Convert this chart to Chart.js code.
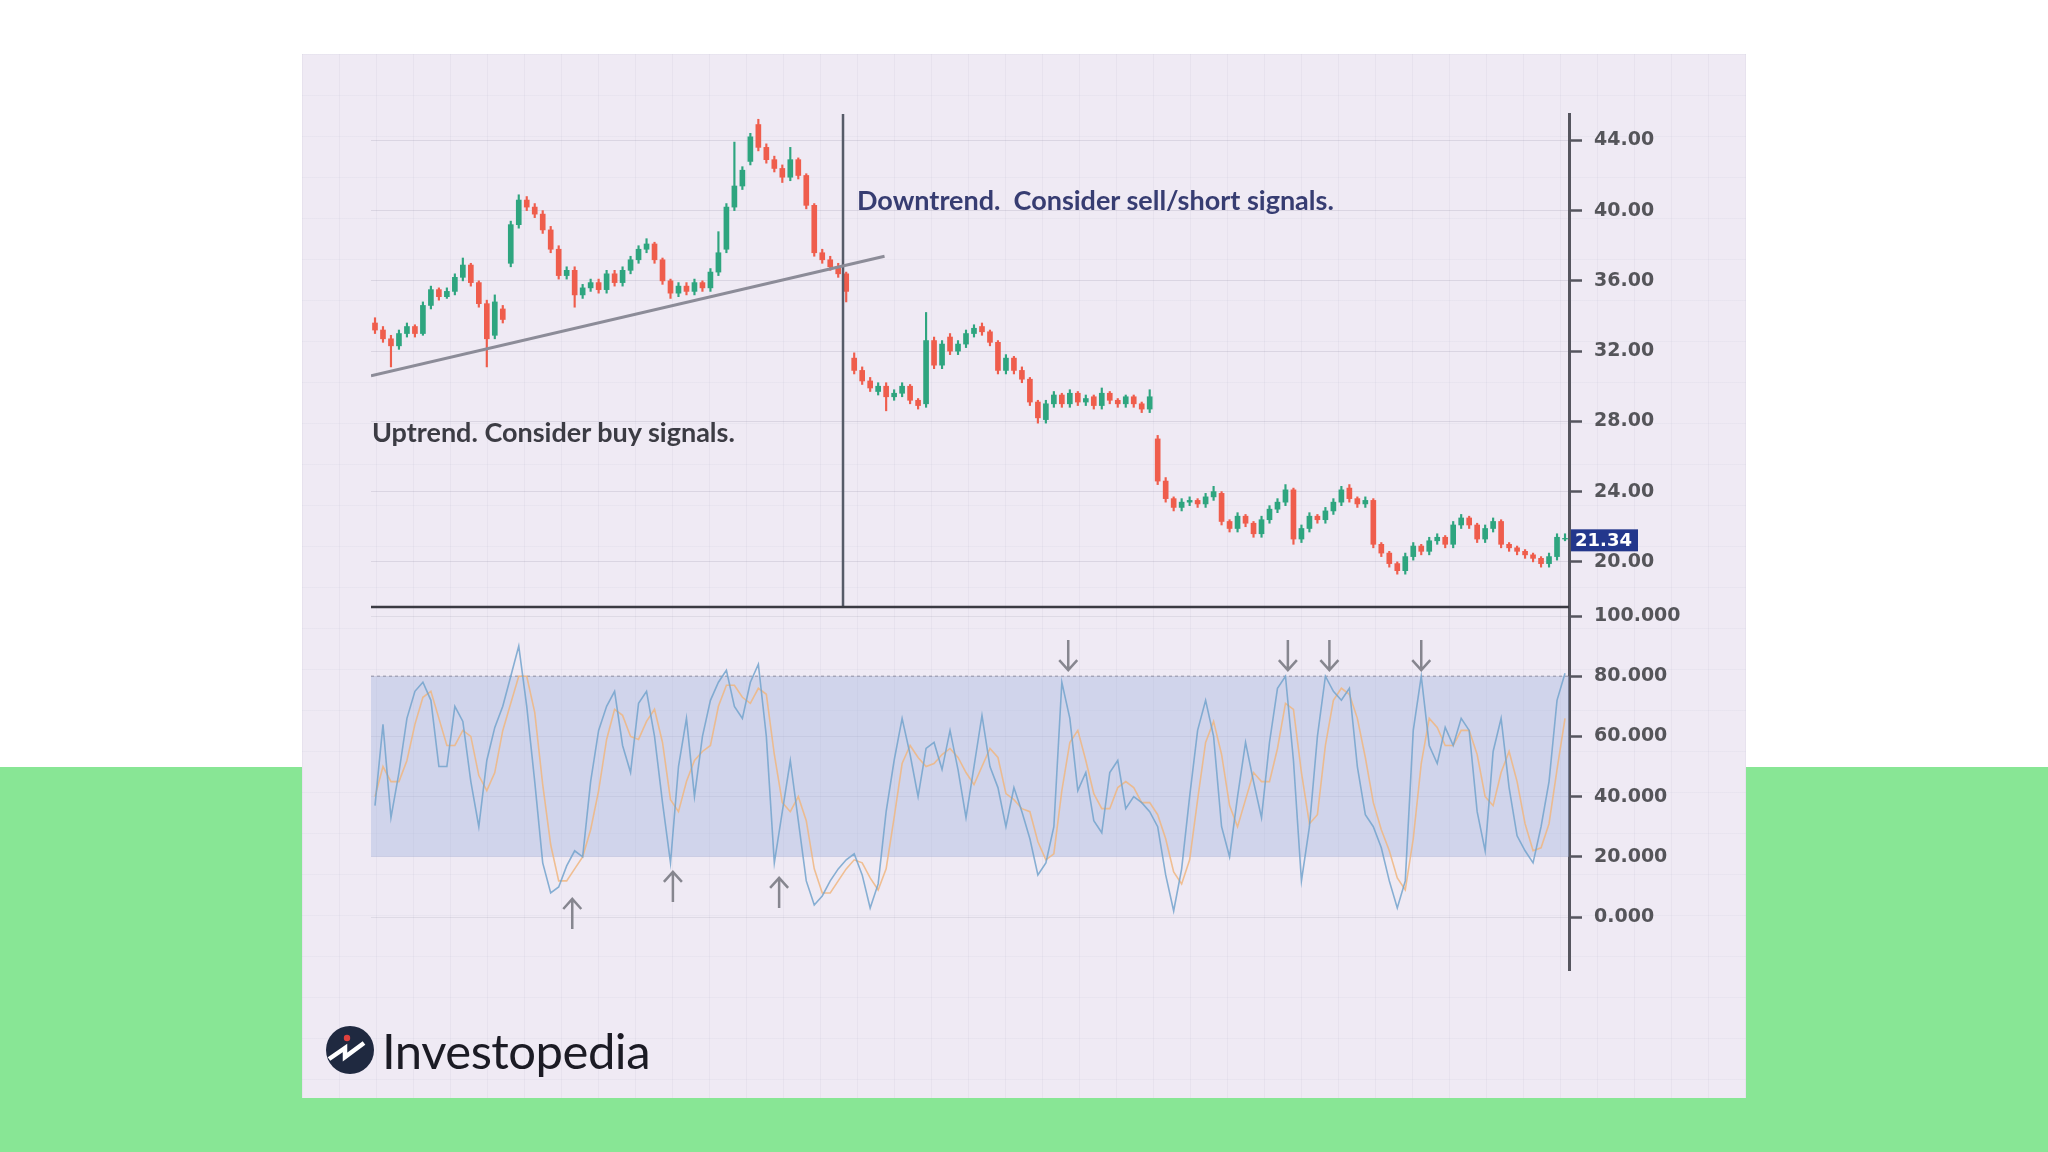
<!DOCTYPE html>
<html>
<head>
<meta charset="utf-8">
<title>Stochastic oscillator - trend signals</title>
<script src="https://cdn.jsdelivr.net/npm/chart.js@4.4.1/dist/chart.umd.min.js"></script>
<style>
    body { margin: 0; width: 2048px; height: 1152px; background: #ffffff; position: relative; overflow: hidden; }
    #green { position: absolute; left: 0; top: 767px; width: 2048px; height: 385px; background: #88e695; }
    #card {
        position: absolute; left: 302px; top: 54px; width: 1444px; height: 1044px; background: #efeaf4;
        background-image: linear-gradient(90deg, rgba(160,160,185,0.10) 1px, transparent 1px),
                          linear-gradient(rgba(160,160,185,0.08) 1px, transparent 1px);
        background-size: 37px 100%, 100% 41px;
    }
    #chart { position: absolute; left: 302px; top: 54px; }
    .note { position: absolute; font-family: Lato, sans-serif; font-weight: 700; font-size: 27px; white-space: nowrap; }
    #down { left: 857px; top: 183px; color: #373d72; }
    #up { left: 372px; top: 415px; color: #3c3c44; }
    #logo { position: absolute; left: 326px; top: 1026px; height: 48px; display: flex; align-items: center; }
    #logo span { font-family: Lato, sans-serif; font-size: 49px; color: #1b1b24; margin-left: 8px; letter-spacing: -0.5px; }
</style>
</head>
<body>
<div id="green"></div>
<div id="card"></div>
<canvas id="chart" width="1444" height="1044"></canvas>
<div class="note" id="down">Downtrend.&nbsp; Consider sell/short signals.</div>
<div class="note" id="up">Uptrend. Consider buy signals.</div>
<div id="logo">
    <svg width="48" height="48" viewBox="0 0 48 48">
        <circle cx="24" cy="24" r="24" fill="#1f2940"/>
        <polyline points="3,33 19,22 19,31 38,17" fill="none" stroke="#ffffff" stroke-width="4.5" stroke-linejoin="miter"/>
        <circle cx="21" cy="12" r="3.2" fill="#e0413e"/>
    </svg>
    <span>Investopedia</span>
</div>
<script>
// prix journaliers (open / high / low / close), 150 bougies
const openP = [
    33.6, 33.2, 32.7, 32.3, 33.0, 33.4, 33.0, 34.6, 35.5, 35.1,
    35.4, 36.2, 36.9, 35.9, 34.7, 32.9, 34.4, 37.0, 39.2, 40.6,
    40.2, 39.8, 38.9, 37.8, 36.3, 36.6, 35.2, 35.6, 35.9, 35.5,
    36.4, 35.9, 36.6, 37.2, 37.8, 38.1, 37.2, 36.0, 35.3, 35.7,
    35.4, 35.9, 35.6, 36.5, 37.8, 40.2, 41.4, 42.8, 44.9, 43.6,
    42.9, 42.4, 41.9, 42.9, 42.0, 40.3, 37.6, 37.2, 36.8, 36.4,
    31.6, 30.9, 30.3, 29.7, 30.0, 29.4, 29.6, 30.0, 29.2, 29.0,
    32.6, 31.2, 32.8, 32.0, 32.4, 33.0, 33.4, 33.1, 32.5, 30.9,
    31.6, 30.9, 30.4, 29.1, 28.1, 29.0, 29.5, 29.0, 29.6, 29.1,
    29.4, 28.9, 29.6, 29.2, 29.0, 29.4, 29.0, 28.7, 27.0, 24.6,
    23.6, 23.1, 23.4, 23.5, 23.3, 23.7, 23.9, 22.3, 21.9, 22.6,
    22.2, 21.6, 22.4, 23.0, 23.4, 24.1, 21.3, 21.9, 22.6, 22.4,
    22.9, 23.4, 24.2, 23.6, 23.3, 23.5, 21.0, 20.5, 19.9, 19.5,
    20.3, 20.9, 20.6, 21.2, 21.4, 21.0, 22.1, 22.5, 22.1, 21.3,
    21.9, 22.3, 21.0, 20.8, 20.6, 20.4, 20.2, 19.9, 20.3, 21.3
];
const highP = [
    33.9, 33.4, 32.9, 33.2, 33.6, 33.5, 34.8, 35.7, 35.6, 35.6,
    36.4, 37.3, 37.0, 36.0, 34.9, 35.2, 34.6, 39.4, 40.9, 40.8,
    40.4, 40.0, 39.1, 38.0, 36.8, 36.8, 35.8, 36.1, 36.1, 36.6,
    36.6, 36.8, 37.4, 38.0, 38.4, 38.2, 37.3, 36.1, 35.9, 35.9,
    36.1, 36.0, 36.7, 38.8, 40.4, 43.9, 42.5, 44.4, 45.2, 43.8,
    43.1, 42.6, 43.6, 43.0, 42.1, 40.4, 37.8, 37.4, 37.0, 36.5,
    31.9, 31.1, 30.5, 30.2, 30.2, 29.8, 30.2, 30.1, 29.3, 34.2,
    32.8, 32.6, 33.0, 32.6, 33.2, 33.5, 33.6, 33.2, 32.6, 31.8,
    31.7, 31.1, 30.5, 29.2, 29.2, 29.7, 29.6, 29.8, 29.7, 29.5,
    29.5, 29.9, 29.7, 29.3, 29.5, 29.5, 29.1, 29.8, 27.2, 24.8,
    23.7, 23.6, 23.7, 23.6, 23.9, 24.3, 24.0, 22.4, 22.8, 22.7,
    22.3, 22.6, 23.2, 23.6, 24.4, 24.2, 22.1, 22.8, 22.7, 23.1,
    23.6, 24.3, 24.4, 23.7, 23.7, 23.6, 21.1, 20.6, 20.0, 20.5,
    21.1, 21.0, 21.4, 21.6, 21.5, 22.3, 22.7, 22.6, 22.2, 22.1,
    22.5, 22.4, 21.1, 20.9, 20.7, 20.5, 20.3, 20.5, 21.6, 21.6
];
const lowP = [
    33.0, 32.5, 31.1, 32.1, 32.8, 32.8, 32.9, 34.4, 34.9, 35.0,
    35.2, 36.0, 35.7, 34.5, 31.1, 32.7, 33.6, 36.8, 39.0, 40.0,
    39.6, 38.7, 37.6, 36.1, 36.1, 34.5, 35.0, 35.4, 35.3, 35.3,
    35.7, 35.7, 36.4, 37.0, 37.6, 37.0, 35.8, 35.0, 35.1, 35.2,
    35.2, 35.4, 35.4, 36.3, 37.6, 40.0, 41.2, 42.6, 43.4, 42.7,
    42.2, 41.6, 41.7, 41.8, 40.1, 37.4, 37.0, 36.6, 36.2, 34.8,
    30.7, 30.1, 29.7, 29.5, 28.6, 29.2, 29.4, 29.0, 28.7, 28.8,
    31.0, 31.0, 31.8, 31.8, 32.2, 32.8, 32.9, 32.3, 30.7, 30.7,
    30.7, 30.2, 28.9, 27.9, 27.9, 28.8, 28.8, 28.8, 28.9, 28.9,
    28.7, 28.7, 29.0, 28.8, 28.8, 28.8, 28.5, 28.5, 24.4, 23.4,
    22.9, 22.9, 23.2, 23.1, 23.1, 23.5, 22.1, 21.7, 21.7, 22.0,
    21.4, 21.4, 22.2, 22.8, 23.2, 21.0, 21.1, 21.7, 22.2, 22.2,
    22.7, 23.2, 23.4, 23.1, 23.1, 20.8, 20.3, 19.7, 19.3, 19.3,
    20.1, 20.4, 20.4, 21.0, 20.8, 20.8, 21.9, 21.9, 21.1, 21.1,
    21.7, 20.8, 20.6, 20.4, 20.2, 20.0, 19.7, 19.7, 20.1, 21.2
];
const closeP = [
    33.2, 32.7, 32.3, 33.0, 33.4, 33.0, 34.6, 35.5, 35.1, 35.4,
    36.2, 36.9, 35.9, 34.7, 32.7, 34.8, 33.8, 39.2, 40.6, 40.2,
    39.8, 38.9, 37.8, 36.3, 36.6, 35.2, 35.6, 35.9, 35.5, 36.4,
    35.9, 36.6, 37.2, 37.8, 38.1, 37.2, 36.0, 35.3, 35.7, 35.4,
    35.9, 35.6, 36.5, 37.6, 40.2, 41.4, 42.3, 44.2, 43.6, 42.9,
    42.4, 41.9, 42.9, 42.0, 40.3, 37.6, 37.2, 36.8, 36.4, 35.4,
    30.9, 30.3, 29.9, 30.0, 29.4, 29.6, 30.0, 29.2, 28.9, 32.6,
    31.2, 32.4, 32.0, 32.4, 33.0, 33.3, 33.1, 32.5, 30.9, 31.6,
    30.9, 30.4, 29.1, 28.2, 29.0, 29.5, 29.0, 29.6, 29.1, 29.3,
    28.9, 29.6, 29.2, 29.0, 29.4, 29.0, 28.7, 29.4, 24.6, 23.6,
    23.1, 23.4, 23.5, 23.3, 23.7, 24.0, 22.3, 21.9, 22.6, 22.2,
    21.6, 22.4, 23.0, 23.4, 24.1, 21.3, 21.9, 22.6, 22.4, 22.9,
    23.4, 24.1, 23.6, 23.3, 23.5, 21.0, 20.5, 19.9, 19.5, 20.3,
    20.9, 20.6, 21.2, 21.4, 21.0, 22.1, 22.5, 22.1, 21.3, 21.9,
    22.3, 21.0, 20.8, 20.6, 20.4, 20.2, 19.9, 20.3, 21.4, 21.34
];

// stochastique %K (bleu) et %D (orange)
const stochK = [
    37, 64, 33, 48, 66, 75, 78, 72, 50, 50,
    70, 65, 45, 30, 52, 63, 70, 80, 90, 70,
    45, 18, 8, 10, 17, 22, 20, 45, 62, 70,
    75, 57, 48, 71, 75, 60, 38, 18, 50, 66,
    40, 60, 72, 78, 82, 70, 66, 78, 84, 60,
    18, 35, 52, 32, 12, 4, 7, 12, 16, 19,
    21, 14, 3, 11, 35, 52, 66, 54, 40, 56,
    58, 49, 62, 49, 33, 50, 67, 50, 43, 30,
    43, 35, 26, 14, 18, 30, 78, 66, 42, 48,
    32, 28, 48, 52, 36, 40, 38, 35, 30, 14,
    2, 16, 40, 62, 72, 60, 30, 20, 40, 58,
    45, 33, 58, 76, 80, 52, 12, 30, 60, 80,
    75, 72, 76, 50, 34, 30, 23, 12, 3, 12,
    62, 80, 57, 51, 63, 57, 66, 62, 35, 22,
    55, 66, 43, 27, 22, 18, 30, 45, 72, 81
];
const stochD = [
    40, 50, 45, 45, 52, 64, 73, 75, 66, 57,
    57, 62, 60, 47, 42, 48, 62, 71, 80, 80,
    68, 44, 24, 12, 12, 16, 20, 29, 42, 59,
    69, 67, 60, 59, 65, 69, 58, 39, 35, 45,
    52, 55, 57, 70, 77, 77, 73, 71, 76, 74,
    54, 38, 35, 40, 32, 16, 8, 8, 12, 16,
    19, 18, 13, 9, 16, 33, 51, 57, 53, 50,
    51, 54, 56, 53, 48, 44, 50, 56, 53, 41,
    39, 36, 35, 25, 19, 21, 42, 58, 62, 52,
    41, 36, 36, 43, 45, 43, 38, 38, 34, 26,
    15, 11, 19, 39, 58, 65, 54, 37, 30, 39,
    48, 45, 45, 56, 71, 69, 48, 31, 34, 57,
    72, 76, 74, 66, 53, 38, 29, 22, 13, 9,
    26, 51, 66, 63, 57, 57, 62, 62, 54, 40,
    37, 48, 55, 45, 31, 22, 23, 31, 49, 66
];

// axes
const priceTicks = [20, 24, 28, 32, 36, 40, 44];
const stochTicks = [0, 20, 40, 60, 80, 100];
const priceMin = 17.43, priceMax = 45.5;
const stochMin = -17.6, stochMax = 103;
const bandLow = 20, bandHigh = 80;

// annotations
const trendIdx = [-0.5, 63.8];
const trendVal = [30.6, 37.4];
const breakIdx = 58.6;
const upArrowIdx = [24.7, 37.3, 50.6];
const upArrowTip = [6, 15, 13];
const downArrowIdx = [86.8, 114.3, 119.5, 131];
const downArrowTip = [82, 82, 82, 82];

const upColor = '#2ea57f';
const downColor = '#ef5d4c';
const candleColors = closeP.map((c, i) => c >= openP[i] ? upColor : downColor);

Chart.defaults.font.family = '"DejaVu Sans", sans-serif';

// bande 20-80, séparateur, flèches, étiquette du dernier prix
const overlay = {
    id: 'overlay',
    beforeDatasetsDraw(chart) {
        const { ctx, chartArea, scales } = chart;
        const y2 = scales.y2;
        const top = y2.getPixelForValue(bandHigh);
        const bot = y2.getPixelForValue(bandLow);
        ctx.save();
        ctx.fillStyle = 'rgba(165,182,222,0.42)';
        ctx.fillRect(chartArea.left, top, chartArea.right - chartArea.left, bot - top);
        ctx.strokeStyle = 'rgba(130,130,150,0.55)';
        ctx.lineWidth = 1.5;
        ctx.setLineDash([3, 3]);
        ctx.beginPath();
        ctx.moveTo(chartArea.left, top);
        ctx.lineTo(chartArea.right, top);
        ctx.stroke();
        ctx.restore();
    },
    afterDatasetsDraw(chart) {
        const { ctx, chartArea, scales } = chart;
        const x = scales.x, y = scales.y, y2 = scales.y2;
        ctx.save();
        // séparateur entre les deux panneaux
        ctx.strokeStyle = '#3a3a42';
        ctx.lineWidth = 2.5;
        ctx.beginPath();
        ctx.moveTo(chartArea.left, y.bottom);
        ctx.lineTo(chartArea.right, y.bottom);
        ctx.stroke();
        // flèches
        ctx.strokeStyle = '#86868f';
        ctx.lineWidth = 2.5;
        const arrow = (idx, tip, dir) => {
            const px = x.getPixelForValue(idx);
            const pt = y2.getPixelForValue(tip);
            const pe = y2.getPixelForValue(tip - dir * 10);
            ctx.beginPath();
            ctx.moveTo(px, pe);
            ctx.lineTo(px, pt);
            ctx.moveTo(px - 9, pt + dir * 10);
            ctx.lineTo(px, pt);
            ctx.lineTo(px + 9, pt + dir * 10);
            ctx.stroke();
        };
        upArrowIdx.forEach((v, i) => arrow(v, upArrowTip[i], 1));
        downArrowIdx.forEach((v, i) => arrow(v, downArrowTip[i], -1));
        ctx.restore();
    },
    afterDraw(chart) {
        const { ctx, scales } = chart;
        const y = scales.y;
        const last = closeP[closeP.length - 1];
        const py = y.getPixelForValue(last) + 2;
        ctx.save();
        ctx.fillStyle = '#23378c';
        ctx.fillRect(y.left + 2, py - 11, 67, 22);
        ctx.fillStyle = '#ffffff';
        ctx.font = 'bold 18px "DejaVu Sans"';
        ctx.textBaseline = 'middle';
        ctx.fillText(last.toFixed(2), y.left + 6, py + 1);
        ctx.restore();
    }
};

const idx = closeP.map((c, i) => i);

new Chart(document.getElementById('chart').getContext('2d'), {
    type: 'bar',
    data: {
        datasets: [
            {
                type: 'line',
                label: 'Trend',
                data: trendIdx.map((v, i) => ({ x: v, y: trendVal[i] })),
                yAxisID: 'y',
                borderColor: '#8c8c98',
                borderWidth: 3,
                pointRadius: 0,
                order: 0
            },
            {
                type: 'line',
                label: 'Break',
                data: [{ x: breakIdx, y: priceMin }, { x: breakIdx, y: priceMax }],
                yAxisID: 'y',
                borderColor: '#565b68',
                borderWidth: 2.5,
                pointRadius: 0,
                order: 0
            },
            {
                label: 'Body',
                data: idx.map(i => ({ x: i, y: [openP[i], closeP[i]] })),
                yAxisID: 'y',
                backgroundColor: candleColors,
                barThickness: 5,
                grouped: false,
                order: 1
            },
            {
                label: 'Wick',
                data: idx.map(i => ({ x: i, y: [lowP[i], highP[i]] })),
                yAxisID: 'y',
                backgroundColor: candleColors,
                barThickness: 1.5,
                grouped: false,
                order: 2
            },
            {
                type: 'line',
                label: '%K',
                data: idx.map(i => ({ x: i, y: stochK[i] })),
                yAxisID: 'y2',
                borderColor: 'rgba(115,163,205,0.85)',
                borderWidth: 1.6,
                pointRadius: 0,
                order: 3
            },
            {
                type: 'line',
                label: '%D',
                data: idx.map(i => ({ x: i, y: stochD[i] })),
                yAxisID: 'y2',
                borderColor: 'rgba(240,182,128,0.85)',
                borderWidth: 1.6,
                pointRadius: 0,
                order: 4
            }
        ]
    },
    options: {
        responsive: false,
        animation: false,
        layout: { padding: { left: 69, top: 60, right: 57, bottom: 128 } },
        plugins: {
            legend: { display: false },
            tooltip: { enabled: false }
        },
        scales: {
            x: {
                type: 'linear',
                min: -0.5,
                max: 149.5,
                offset: false,
                display: false
            },
            y: {
                type: 'linear',
                position: 'right',
                stack: 'panels',
                stackWeight: 493,
                min: priceMin,
                max: priceMax,
                afterBuildTicks: s => { s.ticks = priceTicks.map(v => ({ value: v })); },
                afterFit: s => { s.width = 120; },
                border: { display: true, color: '#55555e', width: 3 },
                grid: { color: 'rgba(120,120,145,0.18)', tickColor: '#55555e', tickLength: 13, tickWidth: 2.5 },
                ticks: { color: '#55555a', font: { size: 19, weight: 'bold' }, padding: 12, callback: v => v.toFixed(2) }
            },
            y2: {
                type: 'linear',
                position: 'right',
                stack: 'panels',
                stackWeight: 363,
                min: stochMin,
                max: stochMax,
                afterBuildTicks: s => { s.ticks = stochTicks.map(v => ({ value: v })); },
                afterFit: s => { s.width = 120; },
                border: { display: true, color: '#55555e', width: 3 },
                grid: { color: 'rgba(120,120,145,0.14)', tickColor: '#55555e', tickLength: 13, tickWidth: 2.5 },
                ticks: { color: '#55555a', font: { size: 19, weight: 'bold' }, padding: 12, callback: v => v.toFixed(3) }
            }
        }
    },
    plugins: [overlay]
});
</script>
</body>
</html>
